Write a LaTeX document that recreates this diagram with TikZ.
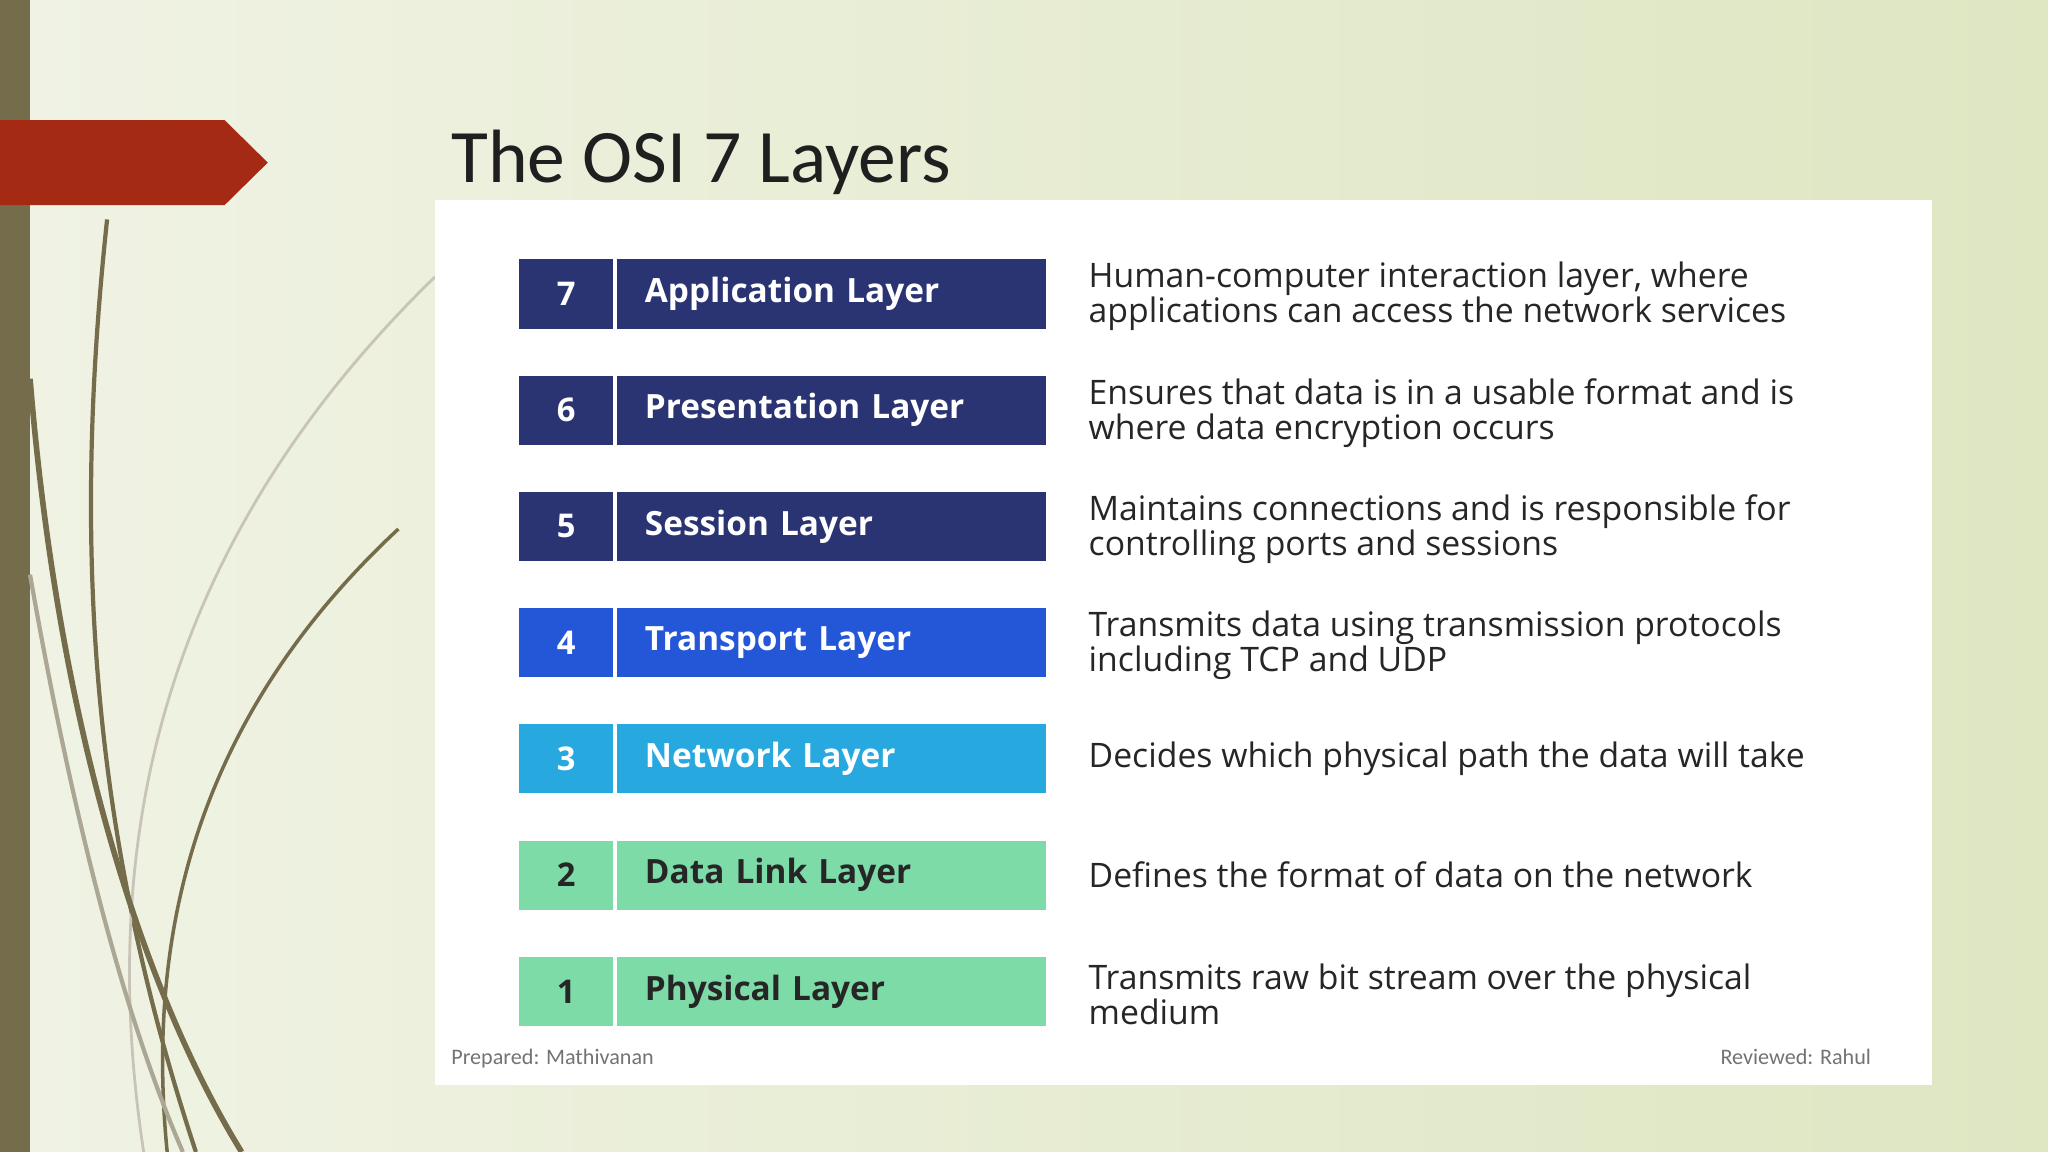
\documentclass[tikz,border=0pt]{standalone}
\usepackage{fontspec}
\setmainfont{Open Sans}
\newfontfamily\titlefont{Carlito}
\definecolor{navy}{HTML}{2B3473}
\definecolor{tblue}{HTML}{2456D8}
\definecolor{nblue}{HTML}{27A9E0}
\definecolor{mint}{HTML}{7DDBA8}
\definecolor{olive}{HTML}{756C4C}
\definecolor{redarrow}{HTML}{A52A13}
\definecolor{bgl}{HTML}{F0F3E4}
\definecolor{bgr}{HTML}{DEE6C2}
\tikzset{
 numbox/.style={fill=#1,minimum width=0.940cm,minimum height=0.692cm,anchor=north west,inner sep=0pt,font=\fontsize{9.3}{10}\selectfont\bfseries},
 namebox/.style={fill=#1,minimum width=4.284cm,minimum height=0.692cm,anchor=north west,inner sep=0pt,text width=3.73cm,align=left,font=\fontsize{9.5}{10}\selectfont\bfseries},
 desc/.style={anchor=west,align=left,inner sep=0pt,font=\fontsize{9.6}{10}\selectfont,text=black!85},
 foot/.style={font=\titlefont\fontsize{6.3}{7}\selectfont,text=black!55,inner sep=0pt},
 curve/.style={draw=olive,line width=1.2pt},
}
\begin{document}
\begin{tikzpicture}[x=0.013061cm,y=-0.013061cm]
\useasboundingbox (0,0) rectangle (1568,882);
\shade[left color=bgl, right color=bgr] (0,0) rectangle (1568,882);
\fill[olive] (0,0) rectangle (23,882);
% curves
\draw[curve] (82,168) .. controls (55,420) and (70,640) .. (150,882);
\draw[curve,draw=olive!40,line width=0.8pt] (333,212) .. controls (140,400) and (70,620) .. (110,882);
\draw[curve,line width=1pt] (305,405) .. controls (160,540) and (110,700) .. (128,882);
\draw[curve,line width=1.6pt] (23,290) .. controls (45,560) and (110,760) .. (185,882);
\draw[curve,draw=olive!60] (23,440) .. controls (60,650) and (100,790) .. (140,882);
\fill[redarrow] (0,92) -- (172,92) -- (205,124.5) -- (172,157) -- (0,157) -- cycle;
\node[anchor=base west,inner sep=0pt,font=\titlefont\fontsize{21.5}{26}\selectfont,text=black!88] (title) at (345,140) {The OSI 7 Layers};
\fill[white] (333,153) rectangle (1479,831);
\foreach \i/\n/\name/\c/\t/\da/\db in {
 0/7/Application Layer/navy/white/{Human-computer interaction layer, where}/{applications can access the network services},
 1/6/Presentation Layer/navy/white/{Ensures that data is in a usable format and is}/{where data encryption occurs},
 2/5/Session Layer/navy/white/{Maintains connections and is responsible for}/{controlling ports and sessions},
 3/4/Transport Layer/tblue/white/{Transmits data using transmission protocols}/{including TCP and UDP},
 6/1/Physical Layer/mint/black!85/{Transmits raw bit stream over the physical}/{medium}}{
 \node[numbox=\c,text=\t] (n\n) at (397,198+89*\i) {\n};
 \node[namebox=\c,text=\t] (l\n) at (472,198+89*\i) {\name};
 \node[desc] (d\n) at (833,227+89*\i) {\da\\\db};
}
\node[numbox=nblue,text=white] (n3) at (397,554) {3};
\node[namebox=nblue,text=white] (l3) at (472,554) {Network Layer};
\node[desc] (d3) at (833,581) {Decides which physical path the data will take};
\node[numbox=mint,text=black!85] (n2) at (397,643) {2};
\node[namebox=mint,text=black!85] (l2) at (472,643) {Data Link Layer};
\node[desc] (d2) at (833,670) {Defines the format of data on the network};
\node[foot,anchor=base west] (prep) at (345,815) {Prepared: Mathivanan};
\node[foot,anchor=base east] (rev) at (1433,815) {Reviewed: Rahul};
\end{tikzpicture}
\end{document}
